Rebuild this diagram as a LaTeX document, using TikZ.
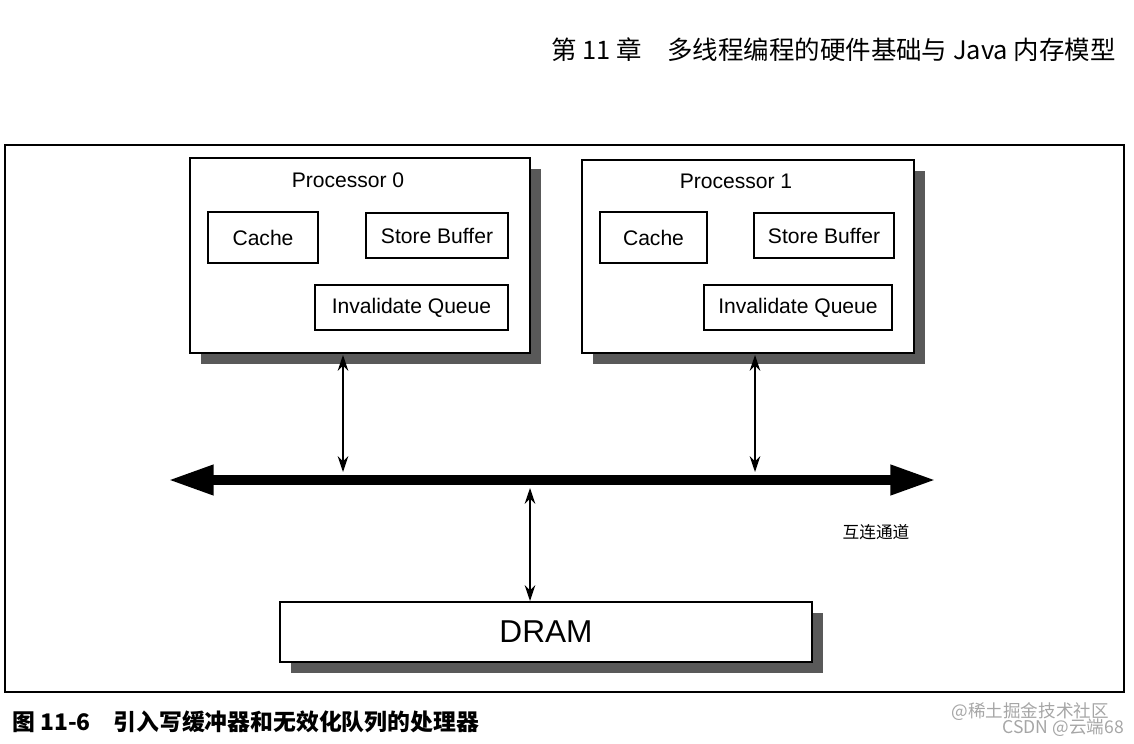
\documentclass[tikz,border=0pt]{standalone}
\usepackage{fontspec}
\setmainfont{Liberation Sans}
\newfontfamily\cjk{Noto Sans CJK SC}
\usetikzlibrary{arrows.meta,positioning}
\tikzset{
	box/.style = {draw, fill=white, line width=0.8pt},
	shadowed/.style = {box, preaction={fill=black!65, transform canvas={shift={(6pt,-6pt)}}}},
	part/.style = {draw, line width=0.6pt, font=\fontsize{12}{14}\selectfont, inner sep=0pt},
	link/.style = {{Stealth[length=9pt,width=6pt]}-{Stealth[length=9pt,width=6pt]}, line width=0.8pt},
}
\begin{document}
\begin{tikzpicture}[x=0.02cm, y=-0.02cm]
	\useasboundingbox (0,0) rectangle (1134,744);
	\node[anchor=east, font=\cjk\fontsize{14.5}{16}\selectfont] (head) at (1122,50) {第 11 章\quad 多线程编程的硬件基础与 Java 内存模型};
	\draw[line width=0.6pt] (5,145) rectangle (1124,692);

	% processors
	\draw[shadowed] (190,158) rectangle (530,353);
	\node[font=\fontsize{12}{14}\selectfont] (p0) at (348,180) {Processor 0};
	\draw[part] (208,212) rectangle (318,263) node[midway] (c0) {Cache};
	\draw[part] (366,213) rectangle (508,258) node[midway] (s0) {Store Buffer};
	\draw[part] (315,285) rectangle (508,330) node[midway] (q0) {Invalidate Queue};

	\draw[shadowed] (582,160) rectangle (914,353);
	\node[font=\fontsize{12}{14}\selectfont] (p1) at (736,181) {Processor 1};
	\draw[part] (600,212) rectangle (707,263) node[midway] (c1) {Cache};
	\draw[part] (754,213) rectangle (894,258) node[midway] (s1) {Store Buffer};
	\draw[part] (704,285) rectangle (892,330) node[midway] (q1) {Invalidate Queue};

	% bus
	\coordinate (busl) at (168,480);
	\coordinate (busr) at (936,480);
	\draw[line width=5.5pt, {Triangle[length=26pt,width=16pt]}-{Triangle[length=26pt,width=16pt]}] (busl) -- (busr);
	\node[font=\cjk\fontsize{9.5}{11}\selectfont] (bus) at (876,532) {互连通道};

	% memory
	\draw[shadowed] (280,602) rectangle (812,662);
	\node[font=\fontsize{18}{20}\selectfont] (dram) at (546,632) {DRAM};

	\coordinate (a0) at (343,355); \coordinate (b0) at (343,472);
	\coordinate (a1) at (755,355); \coordinate (b1) at (755,472);
	\coordinate (a2) at (530,488); \coordinate (b2) at (530,601);
	\draw[link] (a0) -- (b0);
	\draw[link] (a1) -- (b1);
	\draw[link] (a2) -- (b2);

	\node[anchor=west, font=\cjk\bfseries\fontsize{13}{15}\selectfont] (cap) at (6,722) {图 11-6\quad 引入写缓冲器和无效化队列的处理器};
	\node[anchor=east, text=black!35, font=\cjk\fontsize{10}{11}\selectfont] (wm1) at (1115,712) {@稀土掘金技术社区};
	\node[anchor=east, text=black!35, font=\cjk\fontsize{10}{11}\selectfont] (wm2) at (1130,728) {CSDN @云端68};
\end{tikzpicture}
\end{document}
